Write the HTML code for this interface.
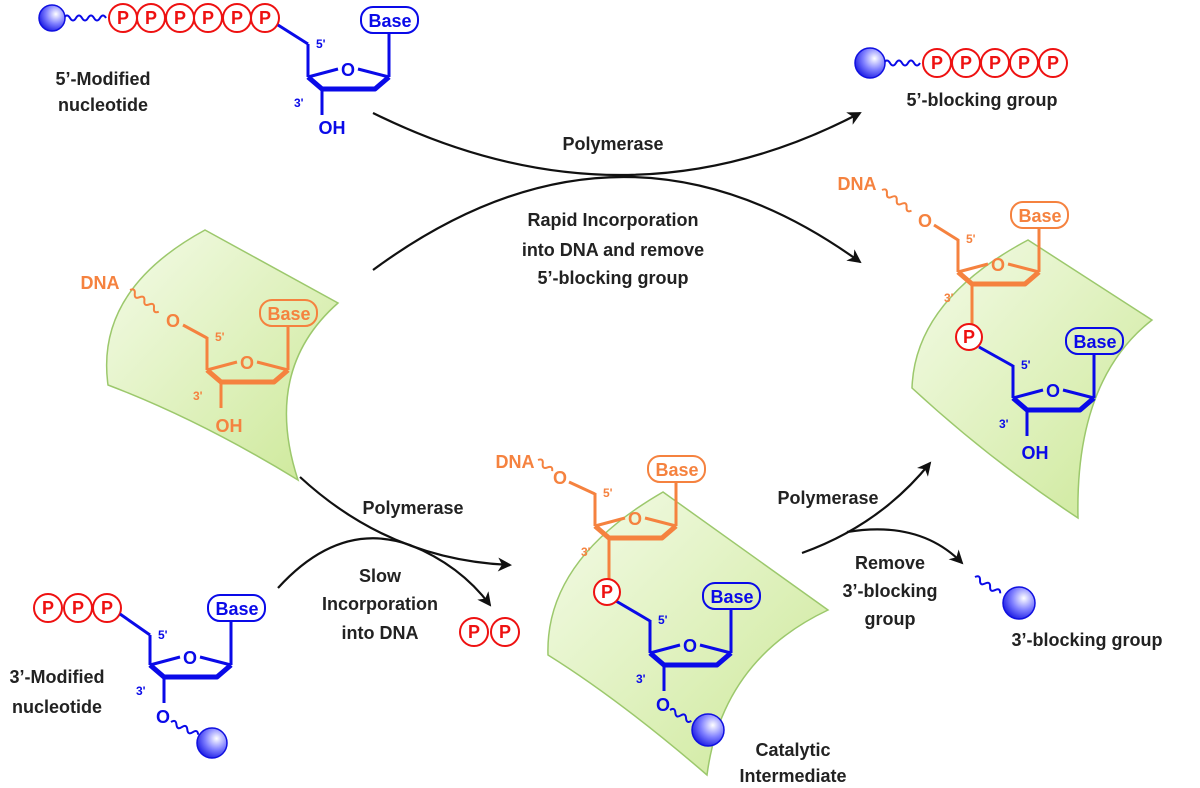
<!DOCTYPE html>
<html><head><meta charset="utf-8"><style>
html,body{margin:0;padding:0;background:#fff;}
svg{display:block;}
.t{font-family:"Liberation Sans",sans-serif;font-weight:bold;fill:#222;font-size:18px;text-anchor:middle;}
.o{fill:#f5823f;} .b{fill:#0a0ae8;} .r{fill:#ee1111;}
.sm{font-size:12px;font-family:"Liberation Sans",sans-serif;font-weight:bold;}
.lg{font-size:18px;font-family:"Liberation Sans",sans-serif;font-weight:bold;text-anchor:middle;}
.pc{fill:#fff;stroke:#ee1111;stroke-width:2;}
.pt{font-family:"Liberation Sans",sans-serif;font-weight:bold;font-size:18px;fill:#ee1111;text-anchor:middle;}
</style></head><body>
<svg width="1200" height="788" viewBox="0 0 1200 788" xmlns="http://www.w3.org/2000/svg">
<defs>
<linearGradient id="gr" x1="0" y1="0" x2="1" y2="1">
<stop offset="0" stop-color="#f4fbe8"/><stop offset="1" stop-color="#cce897"/></linearGradient>
<radialGradient id="ball" cx="0.65" cy="0.35" r="0.75">
<stop offset="0" stop-color="#ffffff"/><stop offset="0.5" stop-color="#8080ff"/><stop offset="1" stop-color="#1010e0"/></radialGradient>
<marker id="ah" markerWidth="14" markerHeight="14" refX="12" refY="7" orient="auto" markerUnits="userSpaceOnUse">
<path d="M0,0 L14,7 L0,14 L4,7 Z" fill="#111"/></marker>
</defs>

<!-- green sheets -->
<path d="M205,230 L338,303 Q262,370 298,480 Q200,420 108,385 Q95,290 205,230 Z" fill="url(#gr)" stroke="#9cc86c" stroke-width="1.5"/>
<path d="M663,492 L828,610 Q722,660 707,775 Q620,700 548,655 Q545,560 663,492 Z" fill="url(#gr)" stroke="#9cc86c" stroke-width="1.5"/>
<path d="M1028,240 L1152,320 Q1075,380 1078,518 Q990,460 912,388 Q915,300 1028,240 Z" fill="url(#gr)" stroke="#9cc86c" stroke-width="1.5"/>

<!-- arrows -->
<g fill="none" stroke="#111" stroke-width="2.2">
<path d="M373,113 Q624,237 860,113" marker-end="url(#ah)"/>
<path d="M373,270 Q620,88 860,262" marker-end="url(#ah)"/>
<path d="M300,477 Q390,560 510,565" marker-end="url(#ah)"/>
<path d="M278,588 Q340,520 410,545 Q460,565 490,605" marker-end="url(#ah)"/>
<path d="M802,553 Q880,525 930,463" marker-end="url(#ah)"/>
<path d="M847,532 Q920,520 962,563" marker-end="url(#ah)"/>
</g>

<!-- texts -->
<text class="t" x="103" y="85">5’-Modified</text>
<text class="t" x="103" y="111">nucleotide</text>
<text class="t" x="613" y="150">Polymerase</text>
<text class="t" x="613" y="226">Rapid Incorporation</text>
<text class="t" x="613" y="256">into DNA and remove</text>
<text class="t" x="613" y="284">5’-blocking group</text>
<text class="t" x="982" y="106">5’-blocking group</text>
<text class="t" x="413" y="514">Polymerase</text>
<text class="t" x="380" y="582">Slow</text>
<text class="t" x="380" y="610">Incorporation</text>
<text class="t" x="380" y="639">into DNA</text>
<text class="t" x="57" y="683">3’-Modified</text>
<text class="t" x="57" y="713">nucleotide</text>
<text class="t" x="828" y="504">Polymerase</text>
<text class="t" x="890" y="569">Remove</text>
<text class="t" x="890" y="597">3’-blocking</text>
<text class="t" x="890" y="625">group</text>
<text class="t" x="1087" y="646">3’-blocking group</text>
<text class="t" x="793" y="756">Catalytic</text>
<text class="t" x="793" y="782">Intermediate</text>

<!-- wavy lines -->
<g fill="none" stroke-width="2">
<path stroke="#0a0ae8" transform="translate(64,18)" d="M0,0 q3,-5 6,0 t6,0 t6,0 t6,0 t6,0 t6,0 t6,0"/>
<path stroke="#0a0ae8" transform="translate(884,63)" d="M0,0 q3,-5 6,0 t6,0 t6,0 t6,0 t6,0 t6,0"/>
<path stroke="#0a0ae8" transform="translate(975,577) rotate(33)" d="M0,0 q3,-5 6,0 t6,0 t6,0 t6,0 t6,0"/>
<path stroke="#0a0ae8" transform="translate(670,710) rotate(27)" d="M0,0 q3,-5 6,0 t6,0 t6,0 t6,0"/>
<path stroke="#0a0ae8" transform="translate(171,722) rotate(25)" d="M0,0 q3,-5 6,0 t6,0 t6,0 t6,0 t6,0"/>
<path stroke="#f5823f" transform="translate(130,290) rotate(37)" d="M0,0 q3,-5 6,0 t6,0 t6,0 t6,0 t6,0 t6,0"/>
<path stroke="#f5823f" transform="translate(538,460) rotate(38)" d="M0,0 q3,-5 6,0 t6,0 t6,0"/>
<path stroke="#f5823f" transform="translate(882,190) rotate(35)" d="M0,0 q3,-5 6,0 t6,0 t6,0 t6,0 t6,0 t6,0"/>
</g>

<!-- balls -->
<g fill="url(#ball)" stroke="#1010e0" stroke-width="1.5">
<circle cx="52" cy="18" r="13"/>
<circle cx="870" cy="63" r="15"/>
<circle cx="1019" cy="603" r="16"/>
<circle cx="708" cy="730" r="16"/>
<circle cx="212" cy="743" r="15"/>
</g>

<!-- phosphate chains -->
<g>
<circle class="pc" cx="123" cy="18" r="14"/><text class="pt" x="123" y="24">P</text>
<circle class="pc" cx="151" cy="18" r="14"/><text class="pt" x="151" y="24">P</text>
<circle class="pc" cx="180" cy="18" r="14"/><text class="pt" x="180" y="24">P</text>
<circle class="pc" cx="208" cy="18" r="14"/><text class="pt" x="208" y="24">P</text>
<circle class="pc" cx="237" cy="18" r="14"/><text class="pt" x="237" y="24">P</text>
<circle class="pc" cx="265" cy="18" r="14"/><text class="pt" x="265" y="24">P</text>

<circle class="pc" cx="937" cy="63" r="14"/><text class="pt" x="937" y="69">P</text>
<circle class="pc" cx="966" cy="63" r="14"/><text class="pt" x="966" y="69">P</text>
<circle class="pc" cx="995" cy="63" r="14"/><text class="pt" x="995" y="69">P</text>
<circle class="pc" cx="1024" cy="63" r="14"/><text class="pt" x="1024" y="69">P</text>
<circle class="pc" cx="1053" cy="63" r="14"/><text class="pt" x="1053" y="69">P</text>

<circle class="pc" cx="48" cy="608" r="14"/><text class="pt" x="48" y="614">P</text>
<circle class="pc" cx="78" cy="608" r="14"/><text class="pt" x="78" y="614">P</text>
<circle class="pc" cx="107" cy="608" r="14"/><text class="pt" x="107" y="614">P</text>

<circle class="pc" cx="474" cy="632" r="14"/><text class="pt" x="474" y="638">P</text>
<circle class="pc" cx="505" cy="632" r="14"/><text class="pt" x="505" y="638">P</text>
</g>

<!-- DNA labels -->
<text class="lg o" x="100" y="289">DNA</text>
<text class="lg o" x="515" y="468">DNA</text>
<text class="lg o" x="857" y="190">DNA</text>

<!-- connector bonds -->
<g stroke-width="3" fill="none">
<path stroke="#0a0ae8" d="M278,25 L308,44"/>
<path stroke="#0a0ae8" d="M120,614 L150,635"/>
<path stroke="#f5823f" d="M183,325 L207,338"/>
<path stroke="#f5823f" d="M569,482 L595,494"/>
<path stroke="#f5823f" d="M934,225 L958,240"/>
<path stroke="#f5823f" d="M609,564 L609,580"/>
<path stroke="#f5823f" d="M972,310 L972,325"/>
<path stroke="#0a0ae8" d="M616,601 L650,621"/>
<path stroke="#0a0ae8" d="M979,347 L1013,366"/>
</g>
<circle class="pc" cx="607" cy="592" r="13"/><text class="pt" x="607" y="598">P</text>
<circle class="pc" cx="969" cy="337" r="13"/><text class="pt" x="969" y="343">P</text>
<text class="lg o" x="173" y="327">O</text>
<text class="lg o" x="560" y="484">O</text>
<text class="lg o" x="925" y="227">O</text>

<!-- sugars -->
<g transform="translate(308,77)" stroke="#0a0ae8" fill="none">
<path d="M0,0 L0,-33 M0,0 L30,-8 M50,-8 L81,0 M81,0 L81,-44 M14,12 L14,38" stroke-width="3"/>
<path d="M0,0 L14,12 L67,12 L81,0" stroke-width="5" stroke-linejoin="round"/>
<rect x="53" y="-70" width="57" height="26" rx="12" stroke-width="2"/>
<g stroke="none" fill="#0a0ae8">
<text class="lg" x="40" y="-1">O</text><text class="lg" x="82" y="-50">Base</text>
<text class="sm" x="-14" y="30">3'</text><text class="sm" x="8" y="-29">5'</text>
<text class="lg" x="24" y="57">OH</text></g></g>

<g transform="translate(207,370)" stroke="#f5823f" fill="none">
<path d="M0,0 L0,-33 M0,0 L30,-8 M50,-8 L81,0 M81,0 L81,-44 M14,12 L14,38" stroke-width="3"/>
<path d="M0,0 L14,12 L67,12 L81,0" stroke-width="5" stroke-linejoin="round"/>
<rect x="53" y="-70" width="57" height="26" rx="12" stroke-width="2"/>
<g stroke="none" fill="#f5823f">
<text class="lg" x="40" y="-1">O</text><text class="lg" x="82" y="-50">Base</text>
<text class="sm" x="-14" y="30">3'</text><text class="sm" x="8" y="-29">5'</text>
<text class="lg" x="22" y="62">OH</text></g></g>

<g transform="translate(595,526)" stroke="#f5823f" fill="none">
<path d="M0,0 L0,-33 M0,0 L30,-8 M50,-8 L81,0 M81,0 L81,-44 M14,12 L14,38" stroke-width="3"/>
<path d="M0,0 L14,12 L67,12 L81,0" stroke-width="5" stroke-linejoin="round"/>
<rect x="53" y="-70" width="57" height="26" rx="12" stroke-width="2"/>
<g stroke="none" fill="#f5823f">
<text class="lg" x="40" y="-1">O</text><text class="lg" x="82" y="-50">Base</text>
<text class="sm" x="-14" y="30">3'</text><text class="sm" x="8" y="-29">5'</text></g></g>

<g transform="translate(650,653)" stroke="#0a0ae8" fill="none">
<path d="M0,0 L0,-33 M0,0 L30,-8 M50,-8 L81,0 M81,0 L81,-44 M14,12 L14,38" stroke-width="3"/>
<path d="M0,0 L14,12 L67,12 L81,0" stroke-width="5" stroke-linejoin="round"/>
<rect x="53" y="-70" width="57" height="26" rx="12" stroke-width="2"/>
<g stroke="none" fill="#0a0ae8">
<text class="lg" x="40" y="-1">O</text><text class="lg" x="82" y="-50">Base</text>
<text class="sm" x="-14" y="30">3'</text><text class="sm" x="8" y="-29">5'</text>
<text class="lg" x="13" y="58">O</text></g></g>

<g transform="translate(958,272)" stroke="#f5823f" fill="none">
<path d="M0,0 L0,-33 M0,0 L30,-8 M50,-8 L81,0 M81,0 L81,-44 M14,12 L14,38" stroke-width="3"/>
<path d="M0,0 L14,12 L67,12 L81,0" stroke-width="5" stroke-linejoin="round"/>
<rect x="53" y="-70" width="57" height="26" rx="12" stroke-width="2"/>
<g stroke="none" fill="#f5823f">
<text class="lg" x="40" y="-1">O</text><text class="lg" x="82" y="-50">Base</text>
<text class="sm" x="-14" y="30">3'</text><text class="sm" x="8" y="-29">5'</text></g></g>

<g transform="translate(1013,398)" stroke="#0a0ae8" fill="none">
<path d="M0,0 L0,-33 M0,0 L30,-8 M50,-8 L81,0 M81,0 L81,-44 M14,12 L14,38" stroke-width="3"/>
<path d="M0,0 L14,12 L67,12 L81,0" stroke-width="5" stroke-linejoin="round"/>
<rect x="53" y="-70" width="57" height="26" rx="12" stroke-width="2"/>
<g stroke="none" fill="#0a0ae8">
<text class="lg" x="40" y="-1">O</text><text class="lg" x="82" y="-50">Base</text>
<text class="sm" x="-14" y="30">3'</text><text class="sm" x="8" y="-29">5'</text>
<text class="lg" x="22" y="61">OH</text></g></g>

<g transform="translate(150,665)" stroke="#0a0ae8" fill="none">
<path d="M0,0 L0,-30 M0,0 L30,-8 M50,-8 L81,0 M81,0 L81,-44 M14,12 L14,38" stroke-width="3"/>
<path d="M0,0 L14,12 L67,12 L81,0" stroke-width="5" stroke-linejoin="round"/>
<rect x="58" y="-70" width="57" height="26" rx="12" stroke-width="2"/>
<g stroke="none" fill="#0a0ae8">
<text class="lg" x="40" y="-1">O</text><text class="lg" x="87" y="-50">Base</text>
<text class="sm" x="-14" y="30">3'</text><text class="sm" x="8" y="-26">5'</text>
<text class="lg" x="13" y="58">O</text></g></g>
</svg>
</body></html>
